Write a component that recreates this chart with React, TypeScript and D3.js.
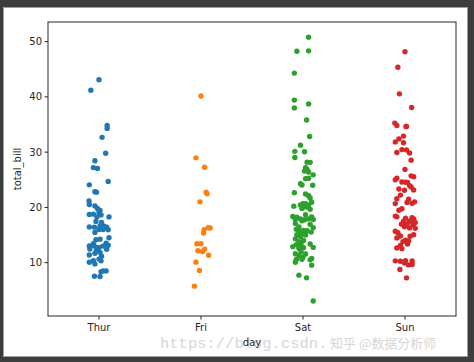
import React from "react";
import * as d3 from "d3";

// tips dataset, total_bill by day; jitter is the horizontal offset (in category units)
const days = ["Thur", "Fri", "Sat", "Sun"];
const colors = ["#1f77b4", "#ff7f0e", "#2ca02c", "#d62728"];
const yTicks = [10, 20, 30, 40, 50];

const thurBill = [43.11, 41.19, 34.83, 34.3, 32.68, 29.8, 28.44, 27.2, 27.05, 24.71, 24.08, 22.82, 22.76, 21.16, 20.53, 20.27, 19.81, 19.44, 19.08, 18.78, 18.71, 18.64, 18.28, 18.26, 17.47, 17.29, 16.66, 16.58, 16.47, 16.43, 16.4, 16.0, 15.98, 15.95, 15.48, 14.52, 14.26, 14.15, 13.51, 13.42, 13.16, 13.03, 13.0, 13.0, 12.74, 12.48, 12.43, 12.26, 11.87, 11.69, 11.38, 11.17, 10.65, 10.34, 10.33, 10.07, 9.78, 8.52, 8.51, 8.35, 7.56, 7.51];
const thurJitter = [0, -0.08, 0.08, 0.08, 0.03, 0.065, -0.04, -0.055, -0.015, 0.09, -0.095, -0.04, -0.025, -0.098, -0.095, -0.04, -0.015, 0.01, 0, -0.055, -0.095, 0.02, 0.098, -0.02, -0.03, 0.025, 0.01, 0.05, -0.095, -0.045, 0.075, 0, 0.04, 0.09, -0.04, 0.098, 0.01, -0.03, 0.07, -0.055, 0.09, -0.095, 0.04, -0.045, 0, -0.09, 0.075, -0.025, 0.01, -0.04, -0.095, 0.025, 0, -0.055, 0.02, -0.095, -0.04, 0.04, 0.07, 0.02, -0.045, 0.01];

const friBill = [40.17, 28.97, 27.28, 22.75, 22.49, 21.01, 16.32, 16.27, 15.98, 15.38, 13.42, 13.42, 12.46, 12.16, 12.03, 11.35, 10.09, 8.58, 5.75];
const friJitter = [0, -0.05, 0.035, 0.05, 0.06, -0.01, 0.07, 0.09, 0.03, 0.025, -0.04, 0, 0.035, -0.03, 0.015, 0.075, -0.05, -0.015, -0.065];

const satBill = [50.81, 48.33, 48.27, 44.3, 39.42, 38.73, 38.01, 35.83, 32.83, 31.27, 30.14, 30.06, 29.03, 28.17, 28.15, 27.18, 26.86, 26.59, 26.41, 25.89, 25.28, 25.21, 24.27, 24.06, 24.01, 22.67, 22.42, 22.12, 21.7, 20.92, 20.69, 20.65, 20.49, 20.45, 20.29, 20.29, 20.23, 20.08, 19.82, 19.65, 18.69, 18.35, 18.29, 18.24, 17.92, 17.92, 17.82, 17.81, 17.78, 17.59, 17.07, 16.93, 16.45, 16.31, 16.04, 15.81, 15.77, 15.69, 15.53, 15.36, 15.06, 15.01, 14.73, 14.31, 14.0, 13.81, 13.37, 13.28, 13.27, 12.9, 12.76, 12.69, 12.6, 12.02, 11.61, 11.59, 11.24, 11.02, 10.77, 10.63, 10.59, 10.51, 10.07, 9.55, 7.74, 7.25, 3.07];
const satJitter = [0.055, 0.055, -0.06, -0.085, -0.085, 0.055, -0.085, 0.035, 0.065, -0.025, -0.08, 0.015, -0.08, 0.04, 0.07, 0.025, 0.04, 0.015, 0.055, 0.1, 0.055, 0.025, -0.025, -0.01, 0.095, -0.085, 0.025, 0.055, 0.07, 0.085, 0.025, 0, 0.04, -0.025, 0.015, 0.055, -0.09, 0.035, -0.01, 0.07, 0.025, -0.1, 0.085, -0.06, -0.025, 0.055, 0.1, -0.075, 0.015, -0.01, -0.075, 0.07, -0.04, 0.1, -0.065, 0.005, 0.04, -0.035, 0.08, -0.01, -0.06, 0.025, -0.025, -0.075, 0.005, -0.04, 0.07, -0.02, -0.065, -0.1, 0.1, 0.005, -0.04, -0.02, -0.075, 0.025, -0.04, 0, 0.085, -0.01, -0.065, 0.07, -0.075, 0.085, -0.04, 0.035, 0.1];

const sunBill = [48.17, 45.35, 40.55, 38.07, 35.26, 34.81, 34.65, 34.63, 32.9, 32.4, 31.85, 31.71, 30.46, 30.4, 29.93, 29.85, 28.55, 26.88, 25.71, 25.56, 25.29, 25.0, 24.59, 24.55, 24.52, 23.95, 23.68, 23.33, 23.17, 23.1, 22.23, 21.58, 21.5, 21.01, 20.9, 20.76, 20.69, 19.77, 19.49, 18.43, 18.29, 18.15, 18.04, 17.89, 17.51, 17.46, 17.31, 17.26, 16.99, 16.97, 16.82, 16.49, 16.29, 16.21, 15.69, 15.42, 15.04, 14.83, 14.78, 14.48, 14.07, 13.94, 13.81, 13.39, 13.13, 12.66, 12.54, 10.34, 10.33, 10.29, 10.27, 9.94, 9.68, 9.6, 8.77, 7.25];
const sunJitter = [0, -0.07, -0.055, 0.065, -0.1, -0.08, 0.015, 0.01, -0.015, -0.06, -0.095, -0.015, -0.03, 0.015, -0.08, 0.045, 0.06, 0, 0.06, 0.085, -0.08, -0.095, -0.03, 0.005, 0.025, 0.045, 0.06, -0.06, 0.085, -0.005, -0.045, -0.08, 0.035, 0.095, 0.02, 0.07, -0.095, -0.03, -0.06, -0.095, -0.08, 0.07, 0.005, 0.085, 0.045, -0.015, 0.07, 0.1, 0.02, -0.035, 0.08, -0.005, 0.045, 0.1, -0.095, -0.07, 0.085, -0.045, 0.05, -0.08, 0.005, 0.035, -0.02, 0.025, -0.045, -0.08, -0.03, 0.005, -0.095, 0.07, -0.045, -0.005, 0.07, 0.035, -0.05, 0.015];

const bills = [thurBill, friBill, satBill, sunBill];
const jitters = [thurJitter, friJitter, satJitter, sunJitter];

const W = 474;
const H = 362;
const left = 48, right = 456, top = 22, bottom = 316;
const font = "DejaVu Sans, sans-serif";

export default function App() {
  const x = d3.scalePoint<string>().domain(days).range([left, right]).padding(0.5);
  const y = d3.scaleLinear().domain([0.35, 53.55]).range([bottom, top]);
  const step = x.step();

  return (
    <svg width={W} height={H} style={{ position: "absolute", left: 0, top: 0 }}>
      <rect x={0} y={0} width={W} height={H} fill="#3d3d3d" />
      <rect x={3.5} y={7.5} width={464} height={349} fill="#ffffff" stroke="#a0a0a0" />

      {/* watermark */}
      <text x={160} y={348} fontFamily="Liberation Mono, monospace" fontSize={15.5} fill="#d6d6d6">
        https://blog.csdn.
      </text>
      <text x={330} y={348} fontFamily="Noto Sans CJK SC, sans-serif" fontSize={13} fill="#d6d6d6">
        知乎 @数据分析师
      </text>

      {/* points */}
      {days.map((d, i) => (
        <g key={d} fill={colors[i]}>
          {bills[i].map((v, j) => (
            <circle key={j} cx={(x(d) as number) + jitters[i][j] * step} cy={y(v)} r={2.7} />
          ))}
        </g>
      ))}

      {/* spines */}
      <rect x={left} y={top} width={right - left} height={bottom - top} fill="none" stroke="#262626" strokeWidth={1} />

      {/* y axis */}
      {yTicks.map((t) => (
        <g key={t}>
          <line x1={left - 3.5} x2={left} y1={y(t)} y2={y(t)} stroke="#262626" />
          <text x={left - 6} y={y(t)} dy="0.35em" textAnchor="end" fontFamily={font} fontSize={10} fill="#262626">
            {t}
          </text>
        </g>
      ))}

      {/* x axis */}
      {days.map((d) => (
        <g key={d}>
          <line x1={x(d)} x2={x(d)} y1={bottom} y2={bottom + 3.5} stroke="#262626" />
          <text x={x(d)} y={bottom + 15} textAnchor="middle" fontFamily={font} fontSize={10} fill="#262626">
            {d}
          </text>
        </g>
      ))}

      <text x={(left + right) / 2} y={346} textAnchor="middle" fontFamily={font} fontSize={10} fill="#262626">
        day
      </text>
      <text
        transform={`translate(21,${(top + bottom) / 2}) rotate(-90)`}
        textAnchor="middle"
        fontFamily={font}
        fontSize={10}
        fill="#262626"
      >
        total_bill
      </text>
    </svg>
  );
}
